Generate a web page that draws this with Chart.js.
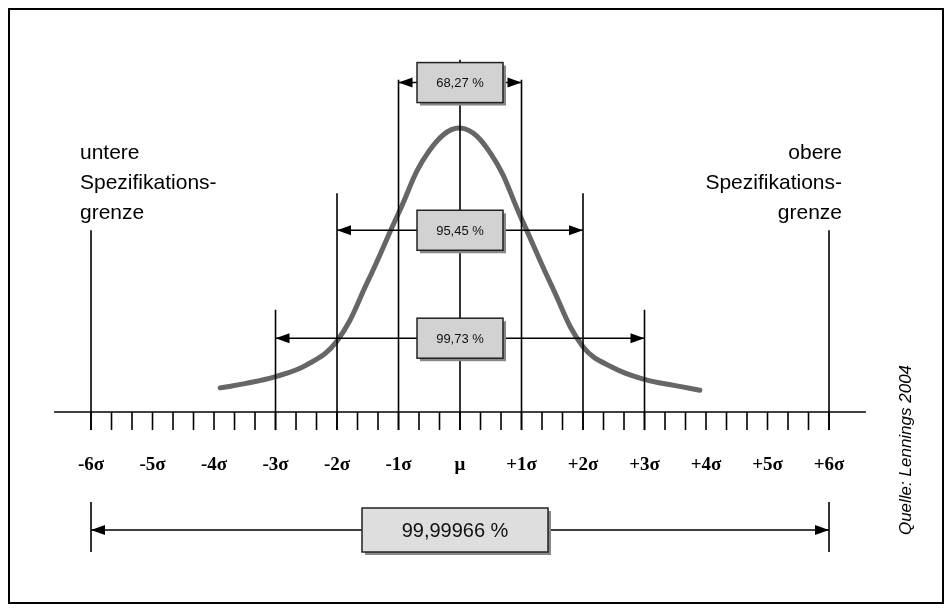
<!DOCTYPE html>
<html>
<head>
<meta charset="utf-8">
<script src="https://cdn.jsdelivr.net/npm/chart.js@4"></script>
<style>
  body{margin:0;background:#fff;}
  #wrap{width:952px;height:612px;position:relative;}
</style>
</head>
<body>
<div id="wrap"><canvas id="grafico"></canvas></div>
<script>
// curva (en sigma, altura relativa al maximo = 100)
const curvaX = [-3.9, -3.5, -3, -2.5, -2, -1.5, -1, -0.5, 0, 0.5, 1, 1.5, 2, 2.5, 3, 3.5, 3.9];
const curvaY = [8.5, 10, 12.5, 16.5, 25, 46, 70, 92, 100, 91, 68, 44, 23, 15.5, 11.5, 9.3, 7.7];

// etiquetas del eje
const sigmaPos = [-6, -5, -4, -3, -2, -1, 0, 1, 2, 3, 4, 5, 6];
const sigmaLabels = ['-6σ', '-5σ', '-4σ', '-3σ', '-2σ', '-1σ', 'μ', '+1σ', '+2σ', '+3σ', '+4σ', '+5σ', '+6σ'];

// lineas verticales: posicion y altura superior
const lineasPos = [-6, -3, -2, -1, 0, 1, 2, 3, 6];
const lineasTop = [64, 36, 77, 117, 124, 117, 77, 36, 64];

// flechas de intervalos
const intervalos = ['68,27 %', '95,45 %', '99,73 %'];
const intervaloSigma = [1, 2, 3];
const intervaloAltura = [116, 64, 26];
const total = '99,99966 %';

const dibujo = {
  id: 'dibujo',
  afterDraw(chart) {
    const c = chart.ctx, xs = chart.scales.x, ys = chart.scales.y;
    const X = v => xs.getPixelForValue(v), Y = v => ys.getPixelForValue(v);
    c.save();
    // marco
    c.strokeStyle = '#000'; c.lineWidth = 2;
    c.strokeRect(9, 9, 934, 594);
    c.lineWidth = 1.6;
    // eje
    const y0 = Y(0);
    c.beginPath(); c.moveTo(X(-6.6), y0); c.lineTo(X(6.6), y0); c.stroke();
    for (let i = -18; i <= 18; i++) {
      c.beginPath(); c.moveTo(X(i / 3), y0); c.lineTo(X(i / 3), y0 + 18); c.stroke();
    }
    // lineas verticales
    lineasPos.forEach((p, i) => {
      c.beginPath(); c.moveTo(X(p), Y(lineasTop[i])); c.lineTo(X(p), y0 + 18); c.stroke();
    });
    // flechas
    function flecha(x1, x2, y) {
      c.beginPath(); c.moveTo(x1, y); c.lineTo(x2, y); c.stroke();
      c.fillStyle = '#000';
      [[x1, 1], [x2, -1]].forEach(([x, d]) => {
        c.beginPath(); c.moveTo(x, y); c.lineTo(x + d * 14, y - 5); c.lineTo(x + d * 14, y + 5); c.closePath(); c.fill();
      });
    }
    function caja(cx, cy, w, h, txt, font, fill) {
      c.fillStyle = '#888'; c.fillRect(cx - w / 2 + 3, cy - h / 2 + 3, w, h);
      c.fillStyle = fill; c.fillRect(cx - w / 2, cy - h / 2, w, h);
      c.strokeStyle = '#222'; c.lineWidth = 1.5; c.strokeRect(cx - w / 2, cy - h / 2, w, h);
      c.fillStyle = '#111'; c.font = font; c.textAlign = 'center'; c.textBaseline = 'middle';
      c.fillText(txt, cx, cy + 1);
    }
    intervalos.forEach((t, i) => {
      const s = intervaloSigma[i], y = Y(intervaloAltura[i]);
      c.strokeStyle = '#000'; c.lineWidth = 1.6;
      flecha(X(-s), X(s), y);
      caja(X(0), y, 86, 40, t, '13px "Liberation Sans"', '#d2d2d2');
    });
    // flecha total
    const yb = 530;
    c.strokeStyle = '#000'; c.lineWidth = 1.6;
    c.beginPath(); c.moveTo(X(-6), yb - 28); c.lineTo(X(-6), yb + 22); c.stroke();
    c.beginPath(); c.moveTo(X(6), yb - 28); c.lineTo(X(6), yb + 22); c.stroke();
    flecha(X(-6), X(6), yb);
    caja((X(-6) + X(6)) / 2 - 5, yb, 186, 44, total, '20px "Liberation Sans"', '#dedede');
    // etiquetas sigma
    c.fillStyle = '#000'; c.font = 'bold 19px "Liberation Serif"';
    c.textAlign = 'center'; c.textBaseline = 'middle';
    sigmaPos.forEach((p, i) => c.fillText(sigmaLabels[i], X(p), 465));
    // textos laterales
    c.font = '21px "Liberation Sans"';
    c.textAlign = 'left';
    ['untere', 'Spezifikations-', 'grenze'].forEach((t, i) => c.fillText(t, 80, 153 + i * 30));
    c.textAlign = 'right';
    ['obere', 'Spezifikations-', 'grenze'].forEach((t, i) => c.fillText(t, 842, 153 + i * 30));
    // fuente
    c.translate(906, 450); c.rotate(-Math.PI / 2);
    c.font = 'italic 17px "Liberation Sans"'; c.textAlign = 'center';
    c.fillText('Quelle: Lennings 2004', 0, 0);
    c.restore();
  }
};

new Chart(document.getElementById('grafico'), {
  type: 'line',
  data: {
    datasets: [{
      data: curvaX.map((x, i) => ({ x: x, y: curvaY[i] })),
      borderColor: '#666', borderWidth: 5, pointRadius: 0,
      tension: 0.4, borderCapStyle: 'round'
    }]
  },
  options: {
    responsive: true, maintainAspectRatio: false, animation: false,
    layout: { padding: 0 },
    plugins: { legend: { display: false }, tooltip: { enabled: false } },
    scales: {
      x: { type: 'linear', min: -7.48, max: 8.0, display: false },
      y: { min: -70.4, max: 145.07, display: false }
    }
  },
  plugins: [dibujo]
});
</script>
</body>
</html>
